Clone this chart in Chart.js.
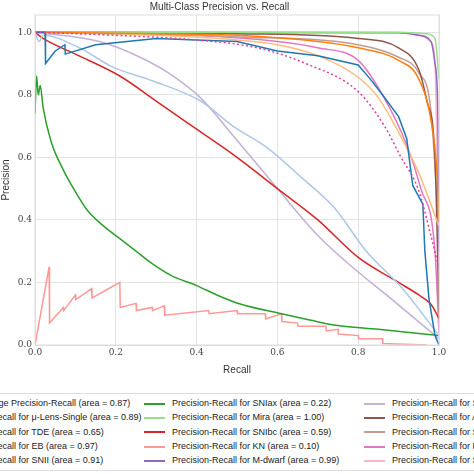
<!DOCTYPE html>
<html>
<head>
<meta charset="utf-8">
<script src="https://cdn.jsdelivr.net/npm/chart.js@4"></script>
<style>
  body { margin: 0; background: #fff; }
  #wrap { position: relative; width: 474px; height: 474px; overflow: hidden; }
  #box { position: absolute; left: 0; top: 0; width: 474px; height: 380px; }
  #legend { position: absolute; left: -90px; top: 393px; width: 700px; height: 76px;
    border: 1px solid #ddd; border-radius: 3px; font: 9px "Liberation Sans", sans-serif; color: #222; }
  .item { position: absolute; height: 14px; line-height: 14px; white-space: nowrap; }
  .item span.sw { display: inline-block; width: 21px; height: 0; vertical-align: middle; margin-right: 7px; }
</style>
</head>
<body>
<div id="wrap">
  <div id="box"><canvas id="prChart"></canvas></div>
  <div id="legend"></div>
</div>
<script>
// recall / precision per class
const labels = [
  'micro-average Precision-Recall (area = 0.87)',
  'Precision-Recall for \u03bc-Lens-Single (area = 0.89)',
  'Precision-Recall for TDE (area = 0.65)',
  'Precision-Recall for EB (area = 0.97)',
  'Precision-Recall for SNII (area = 0.91)',
  'Precision-Recall for SNIax (area = 0.22)',
  'Precision-Recall for Mira (area = 1.00)',
  'Precision-Recall for SNIbc (area = 0.59)',
  'Precision-Recall for KN (area = 0.10)',
  'Precision-Recall for M-dwarf (area = 0.99)',
  'Precision-Recall for SNIa-91bg (area = 0.61)',
  'Precision-Recall for AGN (area = 0.97)',
  'Precision-Recall for SLSN-I (area = 0.96)',
  'Precision-Recall for RRL (area = 0.98)',
  'Precision-Recall for SNIa (area = 0.99)'
];
const colors = ['#e0409a', '#1f77b4', '#aec7e8', '#ff7f0e', '#ffbb78', '#2ca02c', '#98df8a', '#d62728',
  '#ff9896', '#9467bd', '#c5b0d5', '#8c564b', '#c49c94', '#e377c2', '#f7b6d2'];

const microX = [0, 0.2, 0.4, 0.55, 0.67, 0.8, 0.865, 0.906, 0.948, 0.98, 1.0];
const microY = [1.0, 0.99, 0.975, 0.95, 0.9, 0.81, 0.70, 0.60, 0.50, 0.35, 0.245];
const lensX = [0, 0.025, 0.026, 0.05, 0.074, 0.075, 0.15, 0.3, 0.4, 0.5, 0.6, 0.7, 0.8, 0.83, 0.86, 0.9, 0.92, 0.935, 0.96, 0.965, 0.975, 0.99, 1.0];
const lensY = [1.0, 1.0, 0.9, 0.94, 0.96, 0.93, 0.96, 0.98, 0.975, 0.97, 0.94, 0.925, 0.895, 0.85, 0.80, 0.73, 0.66, 0.51, 0.45, 0.30, 0.15, 0.03, 0.0];
const tdeX = [0, 0.01, 0.02, 0.11, 0.19, 0.29, 0.41, 0.49, 0.575, 0.66, 0.74, 0.82, 0.91, 1.0];
const tdeY = [1.0, 0.97, 0.99, 0.95, 0.89, 0.845, 0.78, 0.70, 0.63, 0.535, 0.44, 0.30, 0.18, 0.03];
const ebX = [0, 0.3, 0.5, 0.7, 0.8, 0.9, 0.95, 0.98, 0.995, 1.0];
const ebY = [1.0, 0.995, 0.99, 0.97, 0.95, 0.91, 0.85, 0.72, 0.55, 0.40];
const sniiX = [0, 0.3, 0.5, 0.6, 0.7, 0.8, 0.85, 0.9, 0.95, 1.0];
const sniiY = [1.0, 0.99, 0.975, 0.96, 0.925, 0.856, 0.79, 0.68, 0.55, 0.38];
const sniaxX = [0, 0.004, 0.008, 0.013, 0.02, 0.04, 0.07, 0.10, 0.13, 0.17, 0.21, 0.25, 0.29, 0.34, 0.40, 0.45, 0.51, 0.61, 0.68, 0.74, 0.85, 1.0];
const sniaxY = [0.74, 0.86, 0.80, 0.83, 0.76, 0.65, 0.56, 0.49, 0.43, 0.38, 0.34, 0.30, 0.26, 0.22, 0.19, 0.16, 0.13, 0.10, 0.08, 0.064, 0.05, 0.03];
const miraX = [0, 0.9, 0.97, 0.99, 1.0];
const miraY = [1.0, 1.0, 0.995, 0.98, 0.85];
const snibcX = [0, 0.02, 0.1, 0.21, 0.3, 0.4, 0.5, 0.6, 0.7, 0.8, 0.9, 0.95, 0.98, 1.0];
const snibcY = [1.0, 0.98, 0.93, 0.86, 0.78, 0.69, 0.60, 0.50, 0.40, 0.28, 0.20, 0.16, 0.13, 0.085];
const knX = [0, 0.035, 0.036, 0.07, 0.071, 0.1, 0.101, 0.14, 0.141, 0.175, 0.21, 0.211, 0.25, 0.251, 0.29, 0.291, 0.32, 0.321,
  0.43, 0.431, 0.5, 0.501, 0.57, 0.571, 0.61, 0.611, 0.65, 0.651, 0.72, 0.721, 0.75, 0.751, 0.8, 0.801, 0.86, 0.861, 0.97];
const knY = [0, 0.25, 0.07, 0.12, 0.11, 0.16, 0.145, 0.18, 0.15, 0.175, 0.2, 0.12, 0.133, 0.11, 0.12, 0.11, 0.125, 0.095,
  0.11, 0.1, 0.11, 0.1, 0.1, 0.083, 0.1, 0.075, 0.07, 0.06, 0.06, 0.045, 0.05, 0.035, 0.03, 0.02, 0.02, 0.005, 0];
const mdwarfX = [0, 0.9, 0.95, 0.98, 0.99, 0.997, 1.0];
const mdwarfY = [1.0, 0.998, 0.99, 0.97, 0.9, 0.75, 0.3];
const sn91X = [0, 0.16, 0.26, 0.33, 0.41, 0.49, 0.6, 0.70, 0.78, 0.87, 1.0];
const sn91Y = [1.0, 0.97, 0.92, 0.87, 0.79, 0.67, 0.50, 0.35, 0.255, 0.16, 0.02];
const agnX = [0, 0.5, 0.8, 0.9, 0.95, 0.97, 0.99, 1.0];
const agnY = [1.0, 0.995, 0.98, 0.95, 0.88, 0.78, 0.6, 0.1];
const slsnX = [0, 0.5, 0.8, 0.9, 0.95, 0.98, 1.0];
const slsnY = [1.0, 0.985, 0.96, 0.92, 0.87, 0.75, 0.35];
const rrlX = [0, 0.4, 0.6, 0.7, 0.8, 0.86, 0.92, 0.955, 0.99, 1.0];
const rrlY = [1.0, 0.99, 0.97, 0.95, 0.91, 0.80, 0.64, 0.50, 0.30, 0.04];
const sniaX = [0, 0.9, 0.95, 0.98, 0.99, 1.0];
const sniaY = [1.0, 0.999, 0.99, 0.97, 0.9, 0.2];

const seriesX = [microX, lensX, tdeX, ebX, sniiX, sniaxX, miraX, snibcX, knX, mdwarfX, sn91X, agnX, slsnX, rrlX, sniaX];
const seriesY = [microY, lensY, tdeY, ebY, sniiY, sniaxY, miraY, snibcY, knY, mdwarfY, sn91Y, agnY, slsnY, rrlY, sniaY];
const xTicks = [0, 0.2, 0.4, 0.6, 0.8, 1.0];
const yTicks = [0, 0.2, 0.4, 0.6, 0.8, 1.0];

const datasets = labels.map((label, i) => ({
  label,
  data: seriesX[i].map((x, j) => ({ x, y: seriesY[i][j] })),
  borderColor: colors[i],
  borderWidth: 1.5,
  borderDash: i === 0 ? [2, 2.5] : [],
  pointRadius: 0,
  cubicInterpolationMode: (i === 1 || i === 8) ? 'default' : 'monotone',
  tension: (i === 1 || i === 8) ? 0 : 0.4,
  fill: false
}));

const serif = '"DejaVu Serif", serif';
const sans = '"Liberation Sans", sans-serif';

new Chart(document.getElementById('prChart'), {
  type: 'line',
  data: { datasets },
  options: {
    responsive: true,
    maintainAspectRatio: false,
    animation: false,
    layout: { padding: { right: 35, left: 0 } },
    plugins: {
      legend: { display: false },
      tooltip: { enabled: false },
      title: {
        display: true, text: 'Multi-Class Precision vs. Recall', color: '#333',
        font: { family: sans, size: 10, weight: 'normal' }, padding: { top: 1, bottom: 2 }
      }
    },
    scales: {
      x: {
        type: 'linear', min: 0, max: 1,
        afterBuildTicks: (s) => { s.ticks = xTicks.map((v) => ({ value: v })); },
        afterFit: (s) => { s.height = 35; },
        ticks: { color: '#444', font: { family: serif, size: 9 }, callback: (v) => v.toFixed(1), maxRotation: 0, padding: 2 },
        grid: { color: '#e4e4e4', drawTicks: false },
        border: { color: '#ddd' },
        title: { display: true, text: 'Recall', color: '#333', font: { family: sans, size: 10 }, padding: { top: 2 } }
      },
      y: {
        min: 0, max: 1.055,
        afterBuildTicks: (s) => { s.ticks = yTicks.map((v) => ({ value: v })); },
        afterFit: (s) => { s.width = 35; },
        ticks: { color: '#444', font: { family: serif, size: 9 }, callback: (v) => v.toFixed(1), padding: 3 },
        grid: { color: '#e4e4e4', drawTicks: false },
        border: { color: '#ddd' },
        title: { display: true, text: 'Precision', color: '#333', font: { family: sans, size: 10 }, padding: 0 }
      }
    }
  },
  plugins: [{
    id: 'frame',
    afterDraw(chart) {
      const a = chart.chartArea, c = chart.ctx;
      c.save(); c.strokeStyle = '#ddd'; c.lineWidth = 1;
      c.strokeRect(a.left, a.top, a.right - a.left, a.bottom - a.top);
      c.restore();
    }
  }]
});

// legend, 3 columns x 5 rows, partly cut off by the window like the original
const legend = document.getElementById('legend');
const colX = [12, 233, 453];
labels.forEach((label, i) => {
  const col = Math.floor(i / 5), row = i % 5;
  const el = document.createElement('div');
  el.className = 'item';
  el.style.left = colX[col] + 'px';
  el.style.top = (2 + row * 14.3) + 'px';
  const sw = document.createElement('span');
  sw.className = 'sw';
  sw.style.borderTop = (i === 0 ? '2px dotted ' : '2px solid ') + colors[i];
  el.appendChild(sw);
  el.appendChild(document.createTextNode(label));
  legend.appendChild(el);
});
</script>
</body>
</html>
